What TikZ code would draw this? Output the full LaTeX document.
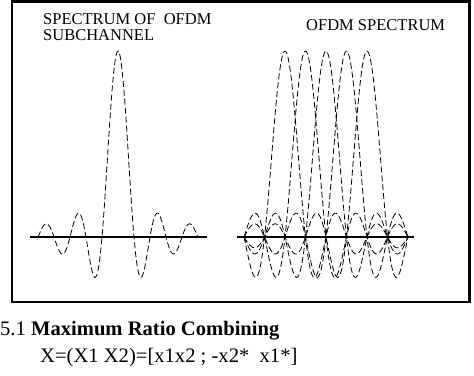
\documentclass[tikz,border=0pt]{standalone}
\usepackage{fontspec}
\setmainfont{Liberation Serif}
\begin{document}
\begin{tikzpicture}[x=1pt,y=-1pt,
  frame/.style={draw=black,line width=2.4pt},
  axisline/.style={draw=black,line width=1.3pt},
  spec/.style={draw=black,line width=0.8pt,dash pattern=on 6pt off 3pt},
  ttl/.style={anchor=base west,inner sep=0pt,font=\fontsize{16.5}{16.5}\selectfont},
  big/.style={anchor=base west,inner sep=0pt,font=\fontsize{20.6}{20.6}\selectfont}]
\useasboundingbox (0,0) rectangle (474,375);
\draw[frame] (12,1.5) rectangle (469.5,302);
% titles
\node[ttl] (t1) at (43,24) {SPECTRUM OF\ \ OFDM};
\node[ttl] (t2) at (43,40) {SUBCHANNEL};
\node[ttl] (t3) at (306,30.5) {OFDM SPECTRUM};
% left plot
\coordinate (la) at (30,237);
\coordinate (lb) at (207,237);
\draw[axisline] (la) -- (lb);
\draw[spec] plot[domain=-5:5,samples=250,smooth] ({118+16*\x},{237-186*sin(180*\x)/(pi*\x)});
% right plot
\coordinate (ra) at (237,237);
\coordinate (rb) at (414,237);
\draw[axisline] (ra) -- (rb);
\foreach \k in {0,...,4}{
  \pgfmathsetmacro{\c}{285+20.5*\k}
  \pgfmathsetmacro{\lo}{-2-\k}
  \pgfmathsetmacro{\hi}{6-\k}
  \draw[spec] plot[domain=\lo:\hi,samples=160,smooth] ({\c+20.5*\x},{237-186*sin(180*\x)/(pi*\x)});
}
% text below
\node[big] (h) at (0,335) {5.1 \textbf{Maximum Ratio Combining}};
\node[big] (f) at (40,362) {X=(X1 X2)=[x1x2 ; -x2*\ \ x1*]};
\end{tikzpicture}
\end{document}
